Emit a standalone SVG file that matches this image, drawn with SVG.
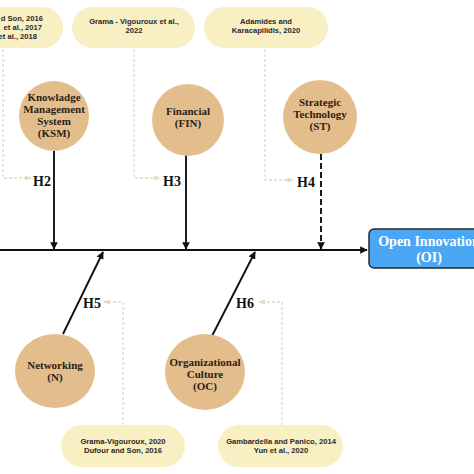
<svg xmlns="http://www.w3.org/2000/svg" width="474" height="474" viewBox="0 0 474 474">
<defs>
<style>
.pill{fill:#f8efc3}
.ptxt{font-family:"Liberation Sans",Arial,sans-serif;font-weight:bold;font-size:7.6px;fill:#2a2a2a;text-anchor:middle}
.pend{text-anchor:end}
.circ{fill:#e4bd8c}
.ctxt{font-family:"Liberation Serif","Times New Roman",serif;font-weight:bold;font-size:11px;fill:#2b2118;text-anchor:middle}
.h{font-family:"Liberation Serif","Times New Roman",serif;font-weight:bold;font-size:14px;fill:#111}
.ref{fill:none;stroke:#e6d8c0;stroke-width:1.3;stroke-dasharray:3 2}
.main{stroke:#111;stroke-width:1.9;fill:none}
</style>
<marker id="ah" viewBox="0 0 10 10" refX="9" refY="5" markerWidth="4" markerHeight="4" orient="auto">
<path d="M0,0 L10,5 L0,10 z" fill="#111"/>
</marker>
<marker id="rh" viewBox="0 0 10 10" refX="9" refY="5" markerWidth="5" markerHeight="5" orient="auto">
<path d="M0,1 L10,5 L0,9 z" fill="#e6d8c0"/>
</marker>
</defs>
<rect width="474" height="474" fill="#fff"/>

<g id="connectors">
<line class="main" x1="0" y1="250" x2="367" y2="250" marker-end="url(#ah)"/>
<line class="main" x1="54" y1="151" x2="54" y2="249" marker-end="url(#ah)"/>
<line class="main" x1="186" y1="154" x2="186" y2="249" marker-end="url(#ah)"/>
<line class="main" x1="321" y1="154" x2="321" y2="249" stroke-dasharray="6 3" marker-end="url(#ah)"/>
<line class="main" x1="63" y1="334" x2="103" y2="252" marker-end="url(#ah)"/>
<line class="main" x1="212" y1="336" x2="255" y2="252" marker-end="url(#ah)"/>
<path class="ref" d="M3,49 V178 H31" marker-end="url(#rh)"/>
<path class="ref" d="M134,49 V178 H160" marker-end="url(#rh)"/>
<path class="ref" d="M265,49 V180 H293" marker-end="url(#rh)"/>
<path class="ref" d="M123,425 V302 H104" marker-end="url(#rh)"/>
<path class="ref" d="M282,425 V302 H259" marker-end="url(#rh)"/>
<text class="h" x="33" y="186">H2</text>
<text class="h" x="163" y="186">H3</text>
<text class="h" x="297" y="187">H4</text>
<text class="h" x="83" y="308">H5</text>
<text class="h" x="236" y="308">H6</text>
</g>

<g id="ref1">
<rect class="pill" x="-60" y="7" width="123" height="41" rx="20.5"/>
<text class="ptxt pend" x="43" y="21">d Son, 2016</text>
<text class="ptxt pend" x="42" y="30">et al., 2017</text>
<text class="ptxt pend" x="37" y="39">et al., 2018</text>
</g>
<g id="ref2">
<rect class="pill" x="72" y="7" width="123" height="41" rx="20.5"/>
<text class="ptxt" x="134" y="24">Grama - Vigouroux et al.,</text>
<text class="ptxt" x="134" y="33">2022</text>
</g>
<g id="ref3">
<rect class="pill" x="204" y="7" width="124" height="41" rx="20.5"/>
<text class="ptxt" x="266" y="24">Adamides and</text>
<text class="ptxt" x="266" y="33">Karacapilidis, 2020</text>
</g>
<g id="ref5">
<rect class="pill" x="61" y="425" width="124" height="42" rx="21"/>
<text class="ptxt" x="123" y="444">Grama-Vigouroux, 2020</text>
<text class="ptxt" x="123" y="453">Dufour and Son, 2016</text>
</g>
<g id="ref6">
<rect class="pill" x="218" y="425" width="125" height="42" rx="21"/>
<text class="ptxt" x="281" y="444">Gambardella and Panico, 2014</text>
<text class="ptxt" x="281" y="453">Yun et al., 2020</text>
</g>

<g id="KSM">
<circle class="circ" cx="54" cy="116" r="35"/>
<text class="ctxt" x="54" y="101">Knowladge</text>
<text class="ctxt" x="54" y="113">Management</text>
<text class="ctxt" x="54" y="125">System</text>
<text class="ctxt" x="54" y="137">(KSM)</text>
</g>
<g id="FIN">
<circle class="circ" cx="188" cy="120" r="36"/>
<text class="ctxt" x="188" y="115">Financial</text>
<text class="ctxt" x="188" y="127">(FIN)</text>
</g>
<g id="ST">
<circle class="circ" cx="320" cy="117" r="37"/>
<text class="ctxt" x="320" y="106">Strategic</text>
<text class="ctxt" x="320" y="118">Technology</text>
<text class="ctxt" x="320" y="130">(ST)</text>
</g>
<g id="N">
<ellipse class="circ" cx="55" cy="371" rx="40" ry="37"/>
<text class="ctxt" x="55" y="369">Networking</text>
<text class="ctxt" x="55" y="381">(N)</text>
</g>
<g id="OC">
<ellipse class="circ" cx="205" cy="372" rx="40" ry="38"/>
<text class="ctxt" x="205" y="366">Organizational</text>
<text class="ctxt" x="205" y="378">Culture</text>
<text class="ctxt" x="205" y="390">(OC)</text>
</g>
<g id="OI">
<rect x="369" y="229" width="120" height="39" rx="5" fill="#4ba7f3" stroke="#2a2a2a" stroke-width="1.5"/>
<text x="429" y="246" font-family="'Liberation Serif','Times New Roman',serif" font-weight="bold" font-size="14" fill="#fff" text-anchor="middle">Open Innovation</text>
<text x="429" y="262" font-family="'Liberation Serif','Times New Roman',serif" font-weight="bold" font-size="14" fill="#fff" text-anchor="middle">(OI)</text>
</g>
</svg>
